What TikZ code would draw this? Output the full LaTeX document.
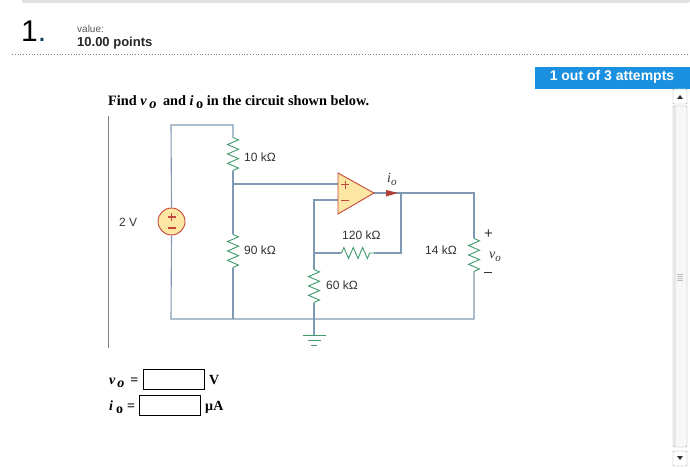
\documentclass[tikz,border=0pt]{standalone}
\usepackage{fontspec}
\setmainfont{Liberation Serif}
\newfontfamily\labelfont{Liberation Sans}
\usepackage{tikz}
\usetikzlibrary{arrows.meta, positioning, shapes.geometric, calc, decorations.pathmorphing}

\definecolor{wireblue}{HTML}{7F99B4}
\definecolor{resgreen}{HTML}{3F9A6C}
\definecolor{partred}{HTML}{C4473A}
\definecolor{partfill}{HTML}{FCE6A4}
\definecolor{tagblue}{HTML}{1B8FE0}
\definecolor{barborder}{HTML}{9A9A9A}

\tikzset{
    wire/.style={draw=wireblue, line width=1.1pt},
    res/.style={draw=resgreen, line width=0.9pt, decorate,
        decoration={zigzag, segment length=9.4pt, amplitude=5.5pt, pre length=0.5pt, post length=0.5pt}},
    txt/.style={inner sep=0pt, anchor=base west, font=\labelfont\fontsize{12}{14}\selectfont, text=black!80},
    answerbox/.style={draw=black, line width=0.9pt, inner sep=0pt, minimum width=61pt, minimum height=19.5pt},
    gnd/.style={draw=resgreen, line width=0.9pt}
}

\begin{document}
\begin{tikzpicture}[x=1pt, y=-1pt]
    \useasboundingbox (0,0) rectangle (690,468);

    % Page furniture
    \fill[black!12, rounded corners=2pt] (22,-4) rectangle (690,3);
    \draw[black!50, line width=0.8pt, dotted] (12,54) -- (690,54);
    \node[txt, font=\labelfont\fontsize{30}{31}\selectfont, text=black] (qnum) at (21,42) {1\textcolor{tagblue!40!black}{.}};
    \node[txt, font=\labelfont\fontsize{10}{12}\selectfont, text=black!65] (valuetag) at (77,33) {value:};
    \node[txt, font=\labelfont\bfseries\fontsize{13}{15}\selectfont, text=black!85] (points) at (77,46.5) {10.00 points};
    \fill[tagblue] (535,67) rectangle (690,89);
    \node[font=\labelfont\bfseries\fontsize{14}{16}\selectfont, text=white, inner sep=0pt] (attempts) at (612,77) {1 out of 3 attempts};

    % Scrollbar
    \draw[barborder, fill=white, rounded corners=1pt] (673,89) rectangle (687,104);
    \fill[black!80] (677,99) -- (683,99) -- (680,95) -- cycle;
    \draw[barborder, fill=black!3, rounded corners=1pt] (673,106) rectangle (687,447);
    \fill[black!10] (673.5,106.5) rectangle (676,446.5);
    \foreach \y in {274,276,278,280} {
        \draw[black!25, line width=0.6pt] (677,\y) -- (683,\y);
    }
    \draw[barborder, fill=white, rounded corners=1pt] (673,451) rectangle (687,466);
    \fill[black!80] (677,456) -- (683,456) -- (680,460) -- cycle;

    % Question line
    \node[txt, font=\bfseries\fontsize{14.3}{16}\selectfont, text=black] (question) at (108,105.5)
        {Find \textit{v}\hspace{2.5pt}\raisebox{-3.5pt}{\textit{o}}\hspace{3pt} and \textit{i}\hspace{2.5pt}\raisebox{-3.5pt}{o} in the circuit shown below.};
    \draw[black!50, line width=0.8pt] (108,116) -- (108,348);

    % Circuit points
    \coordinate (topleft) at (171,125);
    \coordinate (topmid) at (233,125);
    \coordinate (tentop) at (233,137);
    \coordinate (tenbot) at (233,171);
    \coordinate (tap) at (233,184);
    \coordinate (ninetop) at (233,234);
    \coordinate (ninebot) at (233,268);
    \coordinate (botleft) at (171,319);
    \coordinate (botmid) at (233,319);
    \coordinate (botright) at (474,319);
    \coordinate (plusin) at (338,184);
    \coordinate (minusin) at (338,200);
    \coordinate (fbcorner) at (314,200);
    \coordinate (fbjoin) at (314,253);
    \coordinate (fbrleft) at (341,253);
    \coordinate (fbrright) at (374,253);
    \coordinate (fbcorner2) at (401,253);
    \coordinate (outjoin) at (401,193);
    \coordinate (opout) at (374,193);
    \coordinate (outright) at (474,193);
    \coordinate (loadtop) at (474,238);
    \coordinate (loadbot) at (474,272);
    \coordinate (sixtop) at (314,269);
    \coordinate (sixbot) at (314,303);
    \coordinate (gndtop) at (314,335);

    % Source
    \node[circle, draw=partred, fill=partfill, line width=0.9pt, minimum size=27pt, inner sep=0pt] (source) at (171.5,221.5) {};
    \draw[partred, line width=1.1pt] (171.5,213) -- (171.5,221) (167.5,217) -- (175.5,217) (167.5,228) -- (175.5,228);

    % Wires
    \draw[wire] (source.north) -- (topleft) -- (topmid) -- (tentop);
    \draw[wire] (tenbot) -- (ninetop);
    \draw[wire] (tap) -- (plusin);
    \draw[wire] (ninebot) -- (botmid);
    \draw[wire] (source.south) -- (botleft) -- (botright) -- (loadbot);
    \draw[wire] (minusin) -- (fbcorner) -- (sixtop);
    \draw[wire] (fbjoin) -- (fbrleft);
    \draw[wire] (fbrright) -- (fbcorner2) -- (outjoin);
    \draw[wire] (opout) -- (outright) -- (loadtop);
    \draw[wire] (sixbot) -- (gndtop);

    % Resistors
    \draw[res] (tentop) -- (tenbot);
    \draw[res] (ninetop) -- (ninebot);
    \draw[res] (sixtop) -- (sixbot);
    \draw[res] (fbrleft) -- (fbrright);
    \draw[res] (loadtop) -- (loadbot);

    % Op amp
    \draw[draw=partred, fill=partfill, line width=0.9pt] (338,173) -- (374,193) -- (338,214) -- cycle;
    \draw[partred, line width=0.9pt] (341,184.5) -- (349,184.5) (345,180.5) -- (345,188.5) (341,200) -- (349,200);

    % Output current arrow
    \fill[partred!90!black] (386,190) -- (398,193) -- (386,196.5) -- cycle;

    % Ground
    \draw[gnd] (303,335) -- (326,335);
    \draw[gnd] (308,340.5) -- (321,340.5);
    \draw[gnd] (311,345.5) -- (317,345.5);

    % Labels
    \node[txt] (ten) at (244,161) {10 kΩ};
    \node[txt] (ninety) at (244,254) {90 kΩ};
    \node[txt] (volts) at (119,226) {2 V};
    \node[txt] (onetwenty) at (342,239) {120 kΩ};
    \node[txt] (fourteen) at (425,254) {14 kΩ};
    \node[txt] (sixty) at (326,289) {60 kΩ};
    \node[txt, font=\labelfont\fontsize{15}{17}\selectfont] (vplus) at (484,238) {+};
    \draw[black!80, line width=0.9pt] (484,272.5) -- (492,272.5);
    \node[txt, font=\itshape\fontsize{14}{16}\selectfont] (iolabel) at (387,182) {i\raisebox{-3pt}{\fontsize{11}{11}\selectfont o}};
    \node[txt, font=\itshape\fontsize{14}{16}\selectfont] (volabel) at (489,258) {v\raisebox{-3pt}{\fontsize{11}{11}\selectfont o}};

    % Answers
    \node[txt, font=\itshape\bfseries\fontsize{14}{16}\selectfont, text=black] (voname) at (109,384)
        {v\hspace{2pt}\raisebox{-3.5pt}{o}\hspace{6pt}\upshape =};
    \node[answerbox] (vobox) at (173.5,379.5) {};
    \node[txt, font=\bfseries\fontsize{14}{16}\selectfont, text=black] (vunit) at (209,384) {V};
    \node[txt, font=\itshape\bfseries\fontsize{14}{16}\selectfont, text=black] (ioname) at (109,410)
        {i\hspace{3pt}\raisebox{-3.5pt}{\upshape o}\hspace{4pt}\upshape =};
    \node[answerbox, minimum height=20pt] (iobox) at (169.5,405) {};
    \node[txt, font=\bfseries\fontsize{14}{16}\selectfont, text=black] (iunit) at (205,410) {µA};
\end{tikzpicture}
\end{document}
